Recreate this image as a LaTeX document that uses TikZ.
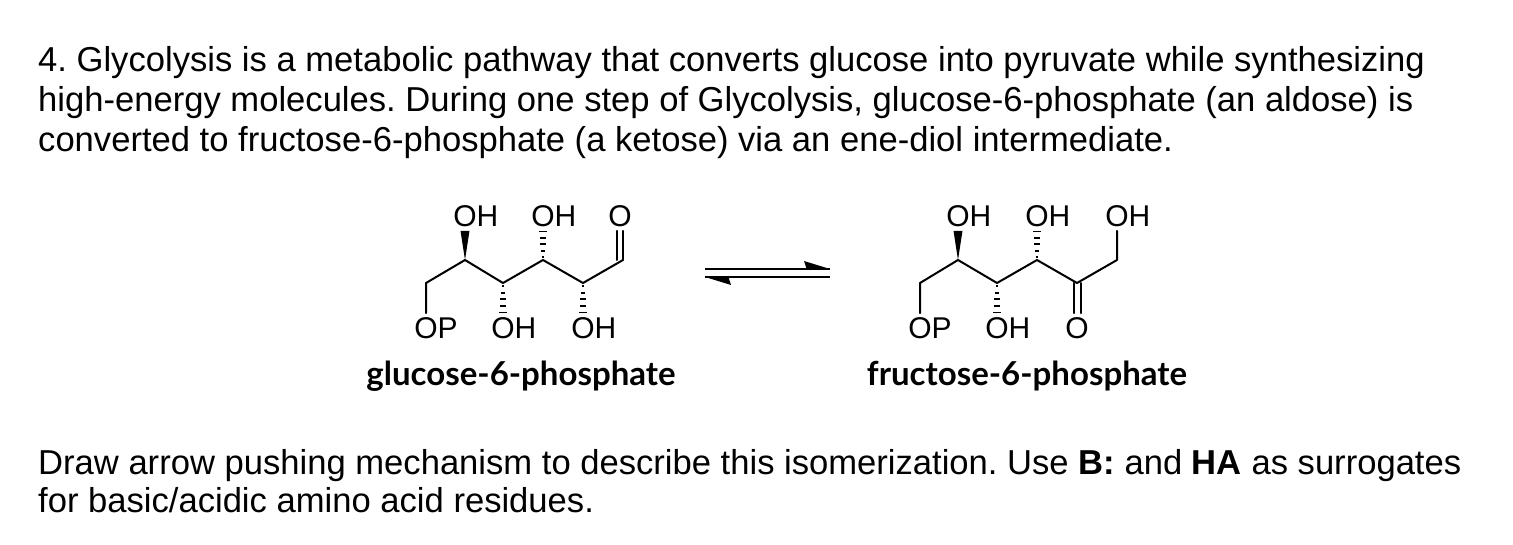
\documentclass[tikz,border=0pt]{standalone}
\usepackage{fontspec}
\setmainfont{Liberation Sans}
\newfontfamily\lblfont{Lato}
\usetikzlibrary{calc}
\begin{document}
\frenchspacing
\begin{tikzpicture}[x=1pt,y=-1pt,
  txt/.style={anchor=base west,inner sep=0pt,font=\fontsize{34.6}{40}\selectfont},
  atom/.style={inner sep=4pt,font=\fontsize{30}{30}\selectfont},
  molname/.style={inner sep=0pt,font=\lblfont\bfseries\fontsize{33}{33}\selectfont},
  bond/.style={line width=2pt,line join=round,line cap=round}]
\useasboundingbox (0,0) rectangle (1513,545);
\node[txt] (t1) at (38,72) {4. Glycolysis is a metabolic pathway that converts glucose into pyruvate while synthesizing};
\node[txt] (t2) at (38,112) {high-energy molecules. During one step of Glycolysis, glucose-6-phosphate (an aldose) is};
\node[txt] (t3) at (38,152) {converted to fructose-6-phosphate (a ketose) via an ene-diol intermediate.};
\node[txt] (t4) at (38,474) {Draw arrow pushing mechanism to describe this isomerization. Use \textbf{B:} and \textbf{HA} as surrogates};
\node[txt] (t5) at (38,512) {for basic/acidic amino acid residues.};
% glucose
\coordinate (g1) at (623,260); \coordinate (g2) at (583,283); \coordinate (g3) at (543,260);
\coordinate (g4) at (503,283); \coordinate (g5) at (465,260); \coordinate (g6) at (426,283);
\node[atom] (gO) at (620,216) {O};
\node[atom] (gOH2) at (583,328) {O\rlap{H}};
\node[atom] (gOH3) at (543,216) {O\rlap{H}};
\node[atom] (gOH4) at (503,328) {O\rlap{H}};
\node[atom] (gOH5) at (465,216) {O\rlap{H}};
\node[atom] (gOP) at (426,328) {O\rlap{P}};
\draw[bond] (gOP.north -| g6) -- (g6) -- (g5) -- (g4) -- (g3) -- (g2) -- (g1);
\draw[bond] (g1) -- (g1 |- gO.south);
\draw[bond] ([xshift=-6]g1) -- ([xshift=-6]g1 |- gO.south);
\fill (g5) -- ([xshift=-4.5]g5 |- gOH5.south) -- ([xshift=4.5]g5 |- gOH5.south) -- cycle;
\foreach \c/\o in {g3/gOH3.south,g4/gOH4.north,g2/gOH2.north}{
  \foreach \f in {0.1,0.32,0.54,0.76,0.98}{
    \draw[line width=1.8pt] ($(\c)!\f!(\c |- \o)$) ++(-0.8-3.5*\f,0) -- ++(1.6+7*\f,0);
  }}
\node[molname] (gname) at (521,376) {glucose-6-phosphate};
% arrows
\coordinate (a1) at (705,269); \coordinate (a2) at (830,269);
\coordinate (b1) at (705,277); \coordinate (b2) at (830,277);
\draw[line width=2pt] (a1) -- (a2);
\fill (a2) -- ++(-26,-8) -- ++(2,6) -- ++(0,3) -- cycle;
\draw[line width=2pt] (b1) -- (b2);
\fill (b1) -- ++(26,8) -- ++(-2,-6) -- ++(0,-3) -- cycle;
% fructose
\coordinate (f1) at (1117,260); \coordinate (f2) at (1077,283); \coordinate (f3) at (1037,260);
\coordinate (f4) at (997,283); \coordinate (f5) at (958,260); \coordinate (f6) at (920,283);
\node[atom] (fOH1) at (1117,216) {O\rlap{H}};
\node[atom] (fO) at (1077,328) {O};
\node[atom] (fOH3) at (1037,216) {O\rlap{H}};
\node[atom] (fOH4) at (997,328) {O\rlap{H}};
\node[atom] (fOH5) at (958,216) {O\rlap{H}};
\node[atom] (fOP) at (920,328) {O\rlap{P}};
\draw[bond] (fOP.north -| f6) -- (f6) -- (f5) -- (f4) -- (f3) -- (f2) -- (f1) -- (f1 |- fOH1.south);
\draw[bond] ([xshift=-3.5]f2) -- ([xshift=-3.5]f2 |- fO.north);
\draw[bond] ([xshift=3.5]f2) -- ([xshift=3.5]f2 |- fO.north);
\fill (f5) -- ([xshift=-4.5]f5 |- fOH5.south) -- ([xshift=4.5]f5 |- fOH5.south) -- cycle;
\foreach \c/\o in {f3/fOH3.south,f4/fOH4.north}{
  \foreach \f in {0.1,0.32,0.54,0.76,0.98}{
    \draw[line width=1.8pt] ($(\c)!\f!(\c |- \o)$) ++(-0.8-3.5*\f,0) -- ++(1.6+7*\f,0);
  }}
\node[molname] (fname) at (1027,376) {fructose-6-phosphate};
\end{tikzpicture}
\end{document}
